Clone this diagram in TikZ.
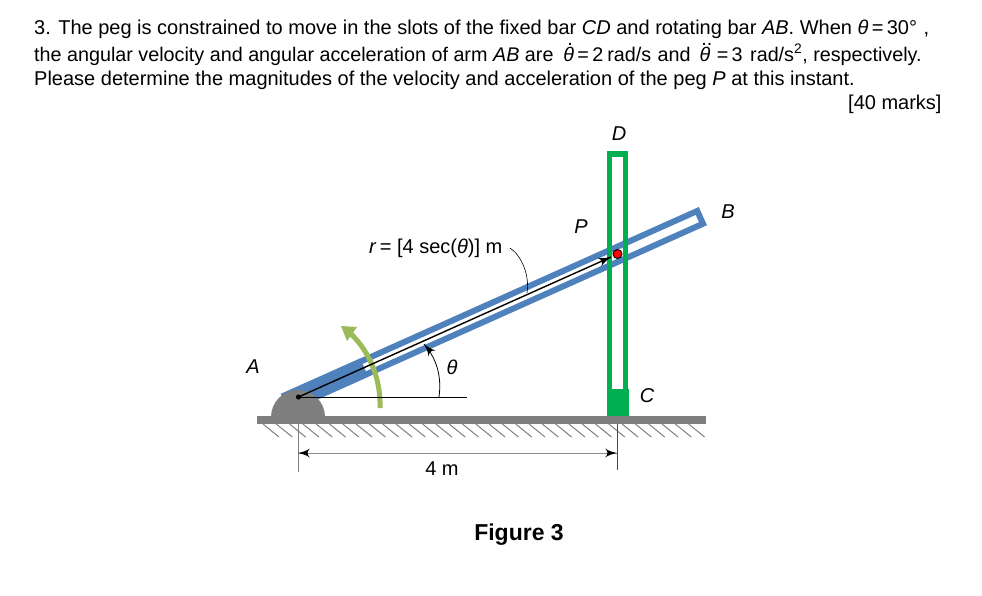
\documentclass[tikz,border=0pt]{standalone}
\usepackage{fontspec}
\setmainfont{Liberation Sans}
\usepackage{tikz}
\usetikzlibrary{arrows}
\usetikzlibrary{decorations.markings}
\usetikzlibrary{positioning}
\definecolor{armblue}{HTML}{4F81BD}
\definecolor{slotgreen}{HTML}{00B050}
\definecolor{spingreen}{HTML}{9BBB59}
\definecolor{basegray}{HTML}{7F7F7F}
\newcommand{\onedot}[1]{\leavevmode\rlap{\hspace{0.2em}\raisebox{0.8em}{.}}#1}
\newcommand{\twodot}[1]{\leavevmode\rlap{\hspace{0.09em}\raisebox{0.8em}{..}}#1}
\tikzset{tip/.style = {decoration={markings,
                                   mark=at position 1 with {\arrow[scale=#1]{latex'}}},
                       postaction={decorate}}}
\tikzset{bothtips/.style = {decoration={markings,
                                         mark=at position 0 with {\arrowreversed[black, scale=2.4]{latex'}},
                                         mark=at position 1 with {\arrow[black, scale=2.4]{latex'}}},
                            postaction={decorate}}}
\tikzset{line/.style = {anchor=base west, inner sep=0pt, font=\fontsize{20}{22}\selectfont}}
\tikzset{lbl/.style = {inner sep=0pt, font=\fontsize{20}{22}\selectfont\itshape}}
\begin{document}
\begin{tikzpicture}[x=1pt, y=-1pt]
      \useasboundingbox (0, 0) rectangle (982, 595);
      % question
      \node [line] (lineone) at (34, 34) {3. The peg is constrained to move in the slots of the fixed bar \textit{CD} and rotating bar \textit{AB}. When \textit{θ}\,=\,30°\,\,,};
      \node [line, font=\fontsize{19.75}{22}\selectfont] (linetwo) at (34, 61) {the angular velocity and angular acceleration of arm \textit{AB} are\hspace{4.5pt} \onedot{\textit{θ}}\,=\,2\hspace{4pt}rad/s\hspace{1pt} and\hspace{3.5pt} \twodot{\textit{θ}}\,\,=\,3\hspace{2pt} rad/s\textsuperscript{2}, respectively.};
      \node [line] (linethree) at (34, 85) {Please determine the magnitudes of the velocity and acceleration of the peg \textit{P} at this instant.};
      \node [line] (marks) at (848, 109) {[40 marks]};
      % points
      \coordinate (A) at (298.5, 397);
      \coordinate (P) at (617.5, 254);
      \coordinate (Ptip) at (611, 257);
      \coordinate (Afoot) at (298, 472);
      \coordinate (Atop) at (298, 424);
      \coordinate (Cfoot) at (617, 470);
      \coordinate (Ctop) at (617, 424);
      \coordinate (Adim) at (298, 453);
      \coordinate (Cdim) at (617, 453);
      \coordinate (refend) at (467, 397);
      \coordinate (refarc) at (439, 397);
      \coordinate (armarc) at (424, 344);
      \coordinate (spinstart) at (380, 408);
      \coordinate (spinneck) at (351, 334);
      \coordinate (spinend) at (341, 326);
      \coordinate (leadstart) at (510, 248);
      \coordinate (leadend) at (527, 293);
      % arm AB
      \begin{scope}[shift={(A)}, rotate=24.1]
        \draw [armblue, line width=6pt] (-12, -7) rectangle (440, 7);
        \fill [armblue] (-14, -10) rectangle (72, 10);
      \end{scope}
      % bar CD
      \draw [slotgreen, line width=5.5pt] (609.5, 417) -- (609.5, 154) -- (625.5, 154) -- (625.5, 417);
      \fill [slotgreen] (606.5, 389) rectangle (628.5, 417);
      % ground
      \fill [basegray] (257, 416) rectangle (706, 424);
      \foreach \i in {0, ..., 32}
        \draw [basegray, line width=1pt] (263 + 13.3 * \i, 424) -- ++(16, 13);
      \fill [basegray] (271, 417) arc [start angle=180, end angle=360, radius=27] -- cycle;
      % rotation
      \draw [spingreen, line width=5pt] (spinstart) .. controls (381, 380) and (370, 352) .. (spinneck);
      \fill [spingreen] (spinend) -- (357, 327) -- (347, 341) -- cycle;
      % angle and position
      \draw [black, line width=0.8pt] (A) -- (refend);
      \draw [black, line width=0.8pt, tip=2.4] (refarc) .. controls (442, 375) and (436, 358) .. (armarc);
      \draw [black, line width=1.4pt, tip=1.8] (A) -- (Ptip);
      \fill [black] (A) circle [radius=2.6];
      \draw [black, line width=0.6pt] (leadstart) .. controls (521, 255) and (530, 275) .. (leadend);
      \draw [black, fill=red, line width=1pt] (P) circle [radius=4.5];
      % dimension
      \draw [gray, line width=0.8pt] (Atop) -- (Afoot);
      \draw [gray!60!black, line width=0.8pt] (Ctop) -- (Cfoot);
      \draw [black!45, line width=0.7pt, bothtips] (Adim) -- (Cdim);
      % labels
      \node [lbl] (labelA) at (253, 367) {A};
      \node [lbl] (labelB) at (728, 212) {B};
      \node [lbl] (labelC) at (647, 396) {C};
      \node [lbl] (labelD) at (619, 134) {D};
      \node [lbl] (labelP) at (581, 227) {P};
      \node [lbl] (labeltheta) at (452, 367) {θ};
      \node [line] (labelr) at (369, 253) {\textit{r}\,= [4 sec(\textit{θ})] m};
      \node [inner sep=0pt, font=\fontsize{20}{22}\selectfont] (labeldim) at (442, 469) {4 m};
      \node [inner sep=0pt, font=\fontsize{23}{25}\selectfont\bfseries] (labelfig) at (519, 535) {Figure 3};
    \end{tikzpicture}
\end{document}
